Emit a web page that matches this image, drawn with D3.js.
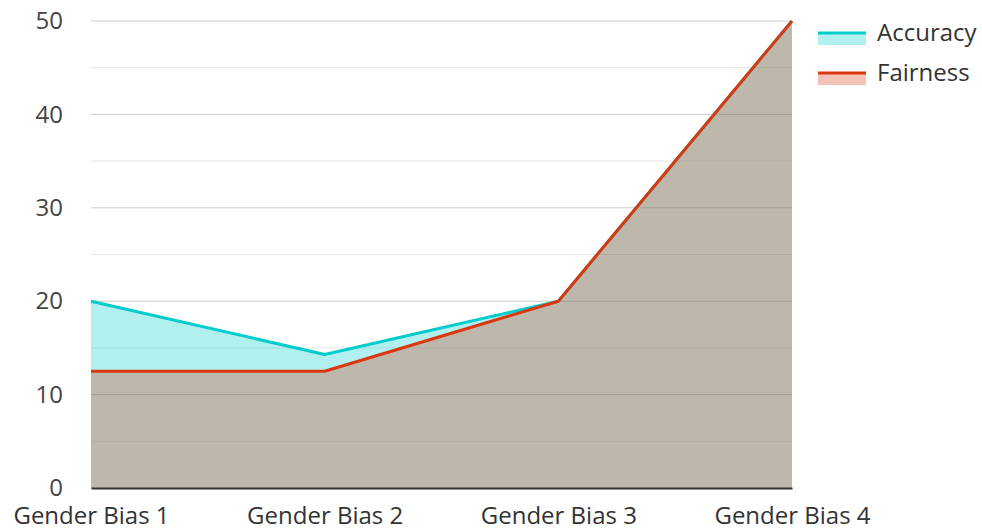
<!DOCTYPE html>
<html>
<head>
<meta charset="utf-8">
<script src="https://cdn.jsdelivr.net/npm/d3@7"></script>
<style>
  body { margin: 0; background: #fff; }
  svg, svg text { font-family: "Open Sans", "Noto Sans", sans-serif; }
</style>
</head>
<body>
<svg id="chart"></svg>
<script>
// chart data
var categories = ["Gender Bias 1", "Gender Bias 2", "Gender Bias 3", "Gender Bias 4"];
var accuracyValues = [20, 14.3, 20, 50];
var fairnessValues = [12.5, 12.5, 20, 50];
var yTicks = [0, 10, 20, 30, 40, 50];
var yMinorTicks = [5, 15, 25, 35, 45];

var seriesList = [
    {name: "Accuracy", values: accuracyValues, color: "#00cccc"},
    {name: "Fairness", values: fairnessValues, color: "#d9380f"}
];

var svgWidth = 982, svgHeight = 529;
var margin = {top: 21, right: 190, bottom: 41, left: 91};
var chartWidth = svgWidth - margin.left - margin.right;
var chartHeight = svgHeight - margin.top - margin.bottom;

var svg = d3.select('#chart')
    .attr("width", svgWidth)
    .attr("height", svgHeight);

var chart = svg.append('g')
    .attr('transform', `translate(${margin.left}, ${margin.top})`);

var xScale = d3.scalePoint()
    .domain(categories)
    .range([0, chartWidth])
    .padding(0);

var yScale = d3.scaleLinear()
    .domain([0, 50])
    .range([chartHeight, 0]);

// grid lines (minor then major)
chart.append('g').selectAll('line.minor')
    .data(yMinorTicks)
    .enter().append('line')
    .attr('x1', 0).attr('x2', chartWidth)
    .attr('y1', d => yScale(d)).attr('y2', d => yScale(d))
    .attr('stroke', '#e6e6e6').attr('stroke-width', 1);

chart.append('g').selectAll('line.major')
    .data(yTicks.filter(d => d > 0))
    .enter().append('line')
    .attr('x1', 0).attr('x2', chartWidth)
    .attr('y1', d => yScale(d)).attr('y2', d => yScale(d))
    .attr('stroke', '#cccccc').attr('stroke-width', 1);

// areas
var area = d3.area()
    .x((d, i) => xScale(categories[i]))
    .y0(yScale(0))
    .y1(d => yScale(d));

var line = d3.line()
    .x((d, i) => xScale(categories[i]))
    .y(d => yScale(d));

seriesList.forEach(function(s) {
    chart.append('path')
        .datum(s.values)
        .attr('d', area)
        .attr('fill', s.color)
        .attr('fill-opacity', 0.3);
});

seriesList.forEach(function(s) {
    chart.append('path')
        .datum(s.values)
        .attr('d', line)
        .attr('fill', 'none')
        .attr('stroke', s.color)
        .attr('stroke-width', 3)
        .attr('stroke-linejoin', 'round');
});

// y axis
var yAxis = chart.append('g')
    .call(d3.axisLeft(yScale).tickValues(yTicks).tickSize(0).tickPadding(28));
yAxis.attr('font-family', null);
yAxis.select('.domain').remove();
yAxis.selectAll('text')
    .attr('fill', '#444')
    .style('font-size', '24px');

// x axis
var xAxis = chart.append('g')
    .attr('transform', `translate(0, ${chartHeight})`)
    .call(d3.axisBottom(xScale).tickSize(0).tickPadding(19));
xAxis.attr('font-family', null);
xAxis.select('.domain')
    .attr('stroke', '#333')
    .attr('stroke-width', 2);
xAxis.selectAll('text')
    .attr('fill', '#333')
    .style('font-size', '24px');

// legend
var legend = svg.append('g')
    .attr('transform', 'translate(818, 33)');

var legendItem = legend.selectAll('g')
    .data(seriesList)
    .enter().append('g')
    .attr('transform', (d, i) => `translate(0, ${i * 40})`);

legendItem.append('rect')
    .attr('x', 0).attr('y', 0)
    .attr('width', 48).attr('height', 12)
    .attr('fill', d => d.color)
    .attr('fill-opacity', 0.3);

legendItem.append('line')
    .attr('x1', 0).attr('x2', 48)
    .attr('y1', 0).attr('y2', 0)
    .attr('stroke', d => d.color)
    .attr('stroke-width', 3);

legendItem.append('text')
    .attr('x', 59).attr('y', 0)
    .attr('dy', '0.35em')
    .attr('fill', '#333')
    .style('font-size', '24px')
    .text(d => d.name);
</script>
</body>
</html>
